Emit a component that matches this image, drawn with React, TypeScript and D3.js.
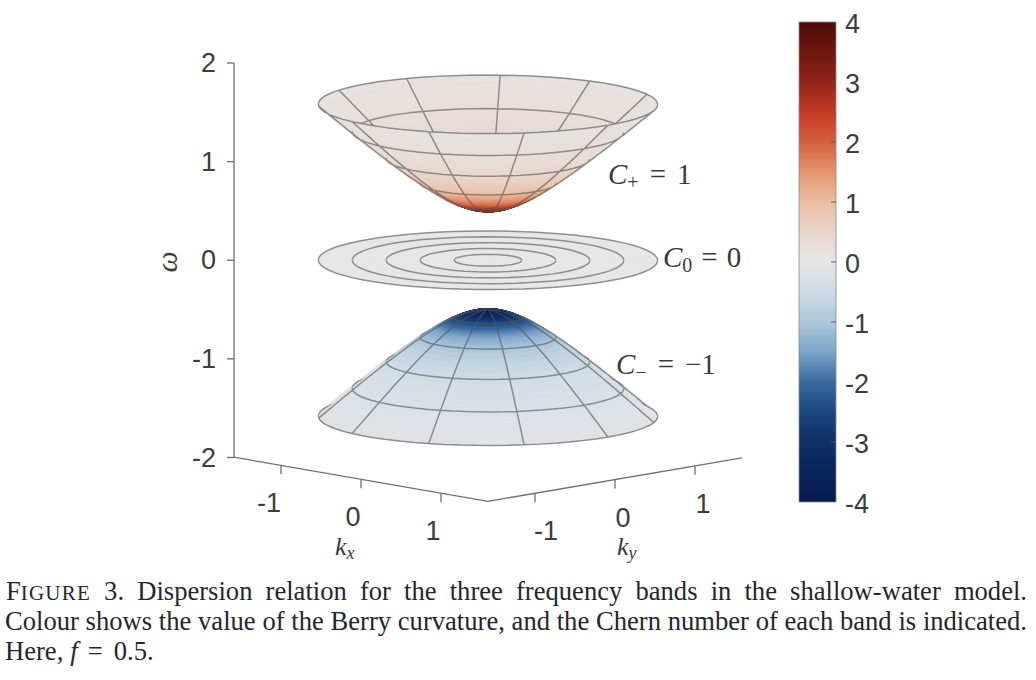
import React, { useLayoutEffect, useRef } from "react";
import * as d3 from "d3";

// Radial samples of the wavenumber magnitude, and values read for each band
const kSamples = [0, 0.025, 0.05, 0.075, 0.1, 0.125, 0.15, 0.175, 0.2, 0.225, 0.25, 0.275, 0.3, 0.325, 0.35, 0.375, 0.4, 0.425, 0.45, 0.475, 0.5, 0.525, 0.55, 0.575, 0.6, 0.65, 0.7, 0.75, 0.8, 0.85, 0.9, 0.95, 1, 1.05, 1.1, 1.15, 1.2, 1.25, 1.3, 1.35, 1.4, 1.45, 1.5];
const omegaPlus = [0.5, 0.5006, 0.502, 0.5056, 0.51, 0.5154, 0.522, 0.5297, 0.539, 0.5483, 0.559, 0.5706, 0.583, 0.5963, 0.61, 0.625, 0.64, 0.6562, 0.673, 0.6896, 0.707, 0.725, 0.743, 0.762, 0.781, 0.82, 0.86, 0.901, 0.943, 0.986, 1.03, 1.074, 1.118, 1.163, 1.208, 1.254, 1.3, 1.346, 1.393, 1.44, 1.487, 1.534, 1.581];
const omegaZero = [0, 0, 0, 0, 0, 0, 0, 0, 0, 0, 0, 0, 0, 0, 0, 0, 0, 0, 0, 0, 0, 0, 0, 0, 0, 0, 0, 0, 0, 0, 0, 0, 0, 0, 0, 0, 0, 0, 0, 0, 0, 0, 0];
const omegaMinus = [-0.5, -0.5006, -0.502, -0.5056, -0.51, -0.5154, -0.522, -0.5297, -0.539, -0.5483, -0.559, -0.5706, -0.583, -0.5963, -0.61, -0.625, -0.64, -0.6562, -0.673, -0.6896, -0.707, -0.725, -0.743, -0.762, -0.781, -0.82, -0.86, -0.901, -0.943, -0.986, -1.03, -1.074, -1.118, -1.163, -1.208, -1.254, -1.3, -1.346, -1.393, -1.44, -1.487, -1.534, -1.581];
const berryPlus = [4, 3.99, 3.95, 3.87, 3.77, 3.65, 3.52, 3.36, 3.19, 3.03, 2.86, 2.69, 2.52, 2.36, 2.2, 2.05, 1.91, 1.77, 1.64, 1.52, 1.41, 1.31, 1.22, 1.13, 1.05, 0.907, 0.786, 0.683, 0.596, 0.522, 0.457, 0.404, 0.358, 0.318, 0.284, 0.254, 0.228, 0.205, 0.185, 0.167, 0.152, 0.139, 0.127];
const berryMinus = [-4, -3.99, -3.95, -3.87, -3.77, -3.65, -3.52, -3.36, -3.19, -3.03, -2.86, -2.69, -2.52, -2.36, -2.2, -2.05, -1.91, -1.77, -1.64, -1.52, -1.41, -1.31, -1.22, -1.13, -1.05, -0.907, -0.786, -0.683, -0.596, -0.522, -0.457, -0.404, -0.358, -0.318, -0.284, -0.254, -0.228, -0.205, -0.185, -0.167, -0.152, -0.139, -0.127];
const meshRings = [0.3, 0.6, 0.9, 1.2, 1.5];
const spokeCount = 11;

const omegaTicks = [-2, -1, 0, 1, 2];
const kTicks = [-1, 0, 1];
const colorTicks = [4, 3, 2, 1, 0, -1, -2, -3, -4];
const colorStops = [-4, -3, -2.5, -2, -1.5, -1, -0.5, 0, 0.5, 1, 1.5, 2, 2.5, 3, 4];
const colorValues = ["#051a4e", "#0f2f66", "#1b4680", "#39699f", "#7ca5ca", "#adc8dc", "#cddbe5", "#e6e6e6", "#e9d6cb", "#ebbda3", "#e5946f", "#d4603e", "#c53a24", "#8f2417", "#4d0a07"];

const captionLines = [
  "Dispersion relation for the three frequency bands in the shallow-water model.",
  "Colour shows the value of the Berry curvature, and the Chern number of each band is indicated.",
];

const KMAX = 1.5875;
const omegaY = d3.scaleLinear().domain([-2, 2]).range([457.5, 63]);
const alongX = d3.scaleLinear().domain([0, 1]).range([0, 80]);
const kxDY = d3.scaleLinear().domain([0, 1]).range([0, 13.9]);
const kyDY = d3.scaleLinear().domain([0, 1]).range([0, -13.7]);
const colour = d3.scaleLinear<string>().domain(colorStops).range(colorValues).interpolate(d3.interpolateRgb);
const cbY = d3.scaleLinear().domain([-4, 4]).range([502, 22]);

const project = (kx: number, ky: number, w: number): [number, number] => [
  488 + alongX(kx + ky),
  omegaY(w) + kxDY(kx) + kyDY(ky),
];

const SUB = 6;
const STEPS = spokeCount * SUB;
const angleOf = (j: number) => (j / STEPS) * Math.PI * 2;
const polar = (r: number, j: number, w: number) => project(r * Math.cos(angleOf(j)), r * Math.sin(angleOf(j)), w);
const isFront = (j: number) => {
  const a = angleOf(j + 0.5);
  return Math.cos(a) - Math.sin(a) > 0;
};

function Band({ omega, berry, spokes }: { omega: number[]; berry: number[]; spokes: boolean }) {
  const ringIdx = meshRings.map((r) => kSamples.findIndex((k) => Math.abs(k - r) < 1e-6));
  const layer = (front: boolean) => {
    const js = d3.range(STEPS).filter((j) => isFront(j) === front);
    const fills: React.ReactNode[] = [];
    for (let i = 0; i < kSamples.length - 1; i++) {
      const c = colour((berry[i] + berry[i + 1]) / 2);
      const p = d3.path();
      js.forEach((j) => {
        const a = polar(kSamples[i], j, omega[i]);
        const b = polar(kSamples[i], j + 1, omega[i]);
        const d = polar(kSamples[i + 1], j + 1, omega[i + 1]);
        const e = polar(kSamples[i + 1], j, omega[i + 1]);
        p.moveTo(a[0], a[1]);
        p.lineTo(b[0], b[1]);
        p.lineTo(d[0], d[1]);
        p.lineTo(e[0], e[1]);
        p.closePath();
      });
      fills.push(<path key={i} d={p.toString()} fill={c} stroke={c} strokeWidth={0.7} />);
    }
    const lines = d3.path();
    ringIdx.forEach((ri) => {
      js.forEach((j) => {
        const a = polar(kSamples[ri], j, omega[ri]);
        const b = polar(kSamples[ri], j + 1, omega[ri]);
        lines.moveTo(a[0], a[1]);
        lines.lineTo(b[0], b[1]);
      });
    });
    if (spokes) {
      d3.range(spokeCount).forEach((s) => {
        const j = s * SUB;
        if (isFront(j) !== front && isFront(j - 1 < 0 ? STEPS - 1 : j - 1) !== front) return;
        for (let i = 0; i < kSamples.length - 1; i++) {
          const a = polar(kSamples[i], j, omega[i]);
          const b = polar(kSamples[i + 1], j, omega[i + 1]);
          lines.moveTo(a[0], a[1]);
          lines.lineTo(b[0], b[1]);
        }
      });
    }
    return (
      <g key={String(front)}>
        {fills}
        <path d={lines.toString()} fill="none" stroke="#555555" strokeOpacity={0.62} strokeWidth={1.5} />
      </g>
    );
  };
  return (
    <g>
      {layer(false)}
      {layer(true)}
    </g>
  );
}

const TICK_FONT = "'Liberation Sans', Arial, sans-serif";
const SERIF = "'Liberation Serif', 'Times New Roman', serif";
const CAPTION_SIZE = 26.6;

function CaptionLine({ x, y, width, children }: { x: number; y: number; width: number; children: React.ReactNode }) {
  const ref = useRef<SVGTextElement>(null);
  useLayoutEffect(() => {
    const el = ref.current;
    if (!el) return;
    el.style.wordSpacing = "0px";
    const len = el.getComputedTextLength();
    const gaps = (el.textContent || "").split(" ").length - 1;
    el.style.wordSpacing = `${(width - len) / gaps}px`;
  }, [width]);
  return (
    <text ref={ref} x={x} y={y} fontFamily={SERIF} fontSize={CAPTION_SIZE} fill="#23262b">
      {children}
    </text>
  );
}

export default function App() {
  const cornerA = project(-KMAX, -KMAX, -2);
  const cornerV = project(KMAX, -KMAX, -2);
  const cornerB = project(KMAX, KMAX, -2);
  const axisColor = "#6f6f6f";
  const textColor = "#3c3c3c";
  return (
    <svg width={1036} height={680} style={{ position: "absolute", left: 0, top: 0, background: "#fff" }}>
      <defs>
        <linearGradient id="cb" x1="0" y1="1" x2="0" y2="0">
          {colorStops.map((s, i) => (
            <stop key={s} offset={(s + 4) / 8} stopColor={colorValues[i]} />
          ))}
        </linearGradient>
        <filter id="soft" x="-5%" y="-5%" width="110%" height="110%">
          <feGaussianBlur stdDeviation={0.55} />
        </filter>
      </defs>

      <g filter="url(#soft)">
        <Band omega={omegaPlus} berry={berryPlus} spokes />
        <Band omega={omegaZero} berry={omegaZero} spokes={false} />
        <Band omega={omegaMinus} berry={berryMinus} spokes />

        {/* omega axis */}
        <line x1={234} x2={234} y1={omegaY(2)} y2={omegaY(-2)} stroke={axisColor} strokeWidth={1.3} />
        {omegaTicks.map((t) => (
          <line key={t} x1={227} x2={234} y1={omegaY(t)} y2={omegaY(t)} stroke={axisColor} strokeWidth={1.3} />
        ))}
        {/* floor axes */}
        <path d={d3.line()([cornerA, cornerV, cornerB]) || ""} fill="none" stroke={axisColor} strokeWidth={1.3} />
        {kTicks.map((t) => {
          const a = project(t, -KMAX, -2);
          const b = project(KMAX, t, -2);
          return (
            <g key={t}>
              <line x1={a[0]} x2={a[0]} y1={a[1]} y2={a[1] + 9} stroke={axisColor} strokeWidth={1.3} />
              <line x1={b[0]} x2={b[0]} y1={b[1]} y2={b[1] + 9} stroke={axisColor} strokeWidth={1.3} />
            </g>
          );
        })}
      </g>

      <g fontFamily={TICK_FONT} fontSize={27} fill={textColor}>
        {omegaTicks.map((t) => (
          <text key={t} x={216} y={omegaY(t) + 9} textAnchor="end">
            {t}
          </text>
        ))}
        {kTicks.map((t) => {
          const a = project(t, -KMAX, -2);
          const b = project(KMAX, t, -2);
          return (
            <g key={t}>
              <text x={a[0] - 8 - (t < 0 ? 4 : 0)} y={a[1] + 47} textAnchor="middle">{t}</text>
              <text x={b[0] + 8 + (t < 0 ? 3 : 0)} y={b[1] + 47} textAnchor="middle">{t}</text>
            </g>
          );
        })}
      </g>

      {/* colour bar */}
      <rect x={799} y={22} width={37} height={480} fill="url(#cb)" stroke="#8a8a8a" strokeWidth={0.8} />
      {colorTicks.slice(1, -1).map((t) => (
        <line key={t} x1={831} x2={836} y1={cbY(t)} y2={cbY(t)} stroke="#5a5a5a" strokeWidth={1} />
      ))}
      <g fontFamily={TICK_FONT} fontSize={27} fill={textColor}>
        {colorTicks.map((t) => (
          <text key={t} x={845} y={cbY(t) + 11}>
            {t}
          </text>
        ))}
      </g>

      {/* math labels */}
      <g fontFamily={SERIF} fontSize={29} fill="#3a3a3a">
        <text x={608} y={184}>
          <tspan fontStyle="italic">C</tspan>
          <tspan fontSize={20} dy={5}>+</tspan>
          <tspan dy={-5} dx={11}>=</tspan>
          <tspan dx={11}>1</tspan>
        </text>
        <text x={663} y={267}>
          <tspan fontStyle="italic">C</tspan>
          <tspan fontSize={20} dy={5}>0</tspan>
          <tspan dy={-5} dx={9}>=</tspan>
          <tspan dx={9}>0</tspan>
        </text>
        <text x={616} y={374}>
          <tspan fontStyle="italic">C</tspan>
          <tspan fontSize={20} dy={5}>−</tspan>
          <tspan dy={-5} dx={11}>=</tspan>
          <tspan dx={11}>−1</tspan>
        </text>
        <text transform="translate(177,262) rotate(-90)" textAnchor="middle" fontStyle="italic" fontSize={30}>
          ω
        </text>
        <text x={335} y={555} fontStyle="italic" fontSize={26}>
          k<tspan fontSize={18} dy={4}>x</tspan>
        </text>
        <text x={617} y={555} fontStyle="italic" fontSize={26}>
          k<tspan fontSize={18} dy={4}>y</tspan>
        </text>
      </g>

      {/* caption */}
      <CaptionLine x={6} y={600} width={1021}>
        <tspan>F</tspan>
        <tspan fontSize={21} letterSpacing={1.2}>IGURE</tspan>
        <tspan> 3. {captionLines[0]}</tspan>
      </CaptionLine>
      <CaptionLine x={5} y={630} width={1022}>
        {captionLines[1]}
      </CaptionLine>
      <text x={5} y={660} fontFamily={SERIF} fontSize={CAPTION_SIZE} fill="#23262b">
        Here,
        <tspan fontStyle="italic" dx={7}>f</tspan>
        <tspan dx={10}>=</tspan>
        <tspan dx={11}>0.5.</tspan>
      </text>
    </svg>
  );
}
